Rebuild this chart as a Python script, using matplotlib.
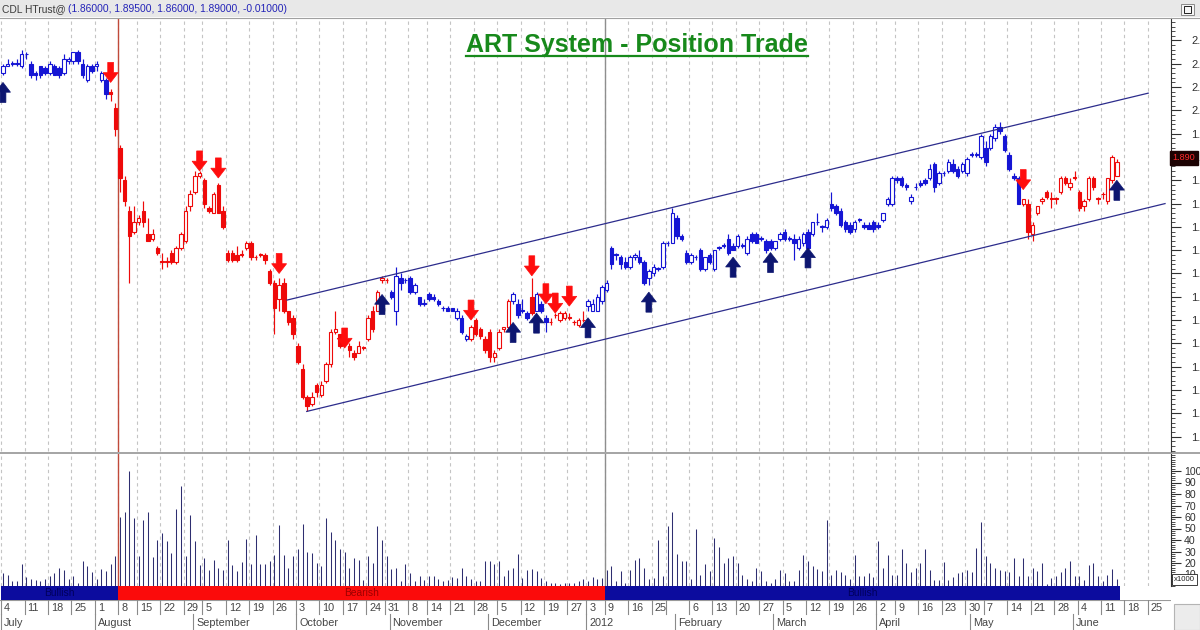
import numpy as np
import pandas as pd
import matplotlib
matplotlib.use("Agg")
import matplotlib.pyplot as plt
from matplotlib.patches import Polygon, Rectangle
from matplotlib.lines import Line2D
from matplotlib.ticker import MultipleLocator, FixedLocator, FormatStrFormatter

plt.rcParams['font.family'] = ['Liberation Sans', 'DejaVu Sans']

# ---------------- data ----------------
header_symbol = "CDL HTrust@"
header_quote = "(1.86000, 1.89500, 1.86000, 1.89000, -0.01000)"
title = "ART System - Position Trade"
first_day = "2011-07-04"
last_axis_day = "2012-06-29"
exchange_holidays = ["2011-08-09", "2011-08-30", "2011-10-26", "2011-11-07", "2011-12-26",
                     "2012-01-02", "2012-01-23", "2012-01-24", "2012-04-06", "2012-05-01"]
blank_week_labels = ["2012-01-30"]

opens = [
    2.080, 2.095, 2.100, 2.100, 2.095, 2.120, 2.100, 2.080, 2.095, 2.090,
    2.080, 2.095, 2.090, 2.080, 2.105, 2.105, 2.125, 2.100, 2.065, 2.095,
    2.095, 2.065, 2.065, 2.040, 2.005, 1.920, 1.850, 1.785, 1.740, 1.760,
    1.785, 1.735, 1.725, 1.705, 1.675, 1.675, 1.695, 1.675, 1.705, 1.720,
    1.795, 1.825, 1.860, 1.850, 1.790, 1.780, 1.840, 1.785, 1.695, 1.695,
    1.690, 1.690, 1.705, 1.715, 1.685, 1.690, 1.690, 1.655, 1.630, 1.595,
    1.630, 1.570, 1.555, 1.495, 1.445, 1.385, 1.370, 1.410, 1.390, 1.420,
    1.455, 1.525, 1.520, 1.520, 1.495, 1.480, 1.480, 1.490, 1.510, 1.570,
    1.570, 1.635, 1.635, 1.610, 1.570, 1.640, 1.635, 1.640, 1.610, 1.600,
    1.585, 1.605, 1.600, 1.590, 1.575, 1.575, 1.575, 1.555, 1.555, 1.510,
    1.510, 1.550, 1.530, 1.510, 1.525, 1.470, 1.490, 1.530, 1.535, 1.590,
    1.585, 1.570, 1.565, 1.600, 1.570, 1.585, 1.555, 1.545, 1.560, 1.550,
    1.555, 1.555, 1.545, 1.540, 1.550, 1.580, 1.570, 1.570, 1.590, 1.615,
    1.705, 1.690, 1.685, 1.675, 1.665, 1.685, 1.685, 1.675, 1.640, 1.650,
    1.660, 1.665, 1.715, 1.715, 1.770, 1.730, 1.695, 1.675, 1.685, 1.700,
    1.660, 1.690, 1.660, 1.705, 1.710, 1.725, 1.710, 1.710, 1.710, 1.695,
    1.735, 1.735, 1.725, 1.720, 1.720, 1.705, 1.725, 1.740, 1.725, 1.725,
    1.705, 1.715, 1.740, 1.735, 1.760, 1.750, 1.750, 1.800, 1.795, 1.785,
    1.760, 1.755, 1.745, 1.765, 1.755, 1.755, 1.760, 1.755, 1.765, 1.800,
    1.800, 1.855, 1.855, 1.840, 1.805, 1.835, 1.845, 1.850, 1.855, 1.885,
    1.845, 1.865, 1.870, 1.885, 1.875, 1.870, 1.865, 1.905, 1.905, 1.900,
    1.920, 1.920, 1.940, 1.965, 1.945, 1.905, 1.860, 1.855, 1.800, 1.800,
    1.735, 1.780, 1.805, 1.825, 1.810, 1.810, 1.825, 1.855, 1.835, 1.855,
    1.825, 1.795, 1.810, 1.855, 1.810, 1.820, 1.805, 1.850, 1.860]

highs = [
    2.100, 2.110, 2.105, 2.110, 2.130, 2.125, 2.105, 2.085, 2.095, 2.095,
    2.105, 2.100, 2.095, 2.120, 2.115, 2.125, 2.130, 2.110, 2.100, 2.100,
    2.105, 2.085, 2.070, 2.045, 2.015, 1.925, 1.860, 1.795, 1.795, 1.775,
    1.805, 1.770, 1.745, 1.710, 1.695, 1.685, 1.700, 1.710, 1.740, 1.795,
    1.830, 1.870, 1.870, 1.855, 1.795, 1.825, 1.845, 1.795, 1.700, 1.700,
    1.710, 1.700, 1.720, 1.720, 1.690, 1.695, 1.695, 1.660, 1.635, 1.640,
    1.640, 1.570, 1.560, 1.500, 1.455, 1.390, 1.395, 1.415, 1.420, 1.460,
    1.530, 1.570, 1.520, 1.520, 1.500, 1.485, 1.505, 1.495, 1.560, 1.580,
    1.615, 1.645, 1.640, 1.615, 1.665, 1.650, 1.640, 1.645, 1.630, 1.600,
    1.595, 1.610, 1.605, 1.595, 1.580, 1.580, 1.575, 1.575, 1.560, 1.520,
    1.540, 1.555, 1.535, 1.515, 1.530, 1.485, 1.530, 1.535, 1.595, 1.610,
    1.595, 1.595, 1.570, 1.640, 1.610, 1.590, 1.560, 1.555, 1.565, 1.570,
    1.570, 1.565, 1.550, 1.555, 1.570, 1.595, 1.595, 1.605, 1.625, 1.635,
    1.710, 1.695, 1.690, 1.685, 1.690, 1.695, 1.700, 1.680, 1.660, 1.670,
    1.665, 1.720, 1.720, 1.790, 1.775, 1.735, 1.700, 1.695, 1.690, 1.705,
    1.685, 1.695, 1.700, 1.710, 1.715, 1.735, 1.715, 1.735, 1.715, 1.730,
    1.740, 1.740, 1.730, 1.725, 1.725, 1.720, 1.740, 1.745, 1.730, 1.735,
    1.730, 1.740, 1.745, 1.760, 1.780, 1.755, 1.770, 1.825, 1.800, 1.790,
    1.765, 1.760, 1.765, 1.770, 1.760, 1.760, 1.765, 1.760, 1.780, 1.815,
    1.860, 1.860, 1.860, 1.845, 1.820, 1.845, 1.850, 1.855, 1.885, 1.890,
    1.870, 1.870, 1.895, 1.895, 1.880, 1.890, 1.900, 1.910, 1.910, 1.950,
    1.935, 1.950, 1.970, 1.975, 1.950, 1.910, 1.865, 1.860, 1.810, 1.810,
    1.760, 1.795, 1.815, 1.830, 1.825, 1.815, 1.860, 1.860, 1.855, 1.870,
    1.830, 1.810, 1.860, 1.860, 1.815, 1.825, 1.855, 1.905, 1.895]

lows = [
    2.075, 2.095, 2.095, 2.095, 2.090, 2.110, 2.070, 2.065, 2.070, 2.075,
    2.075, 2.075, 2.070, 2.075, 2.100, 2.100, 2.100, 2.070, 2.060, 2.080,
    2.085, 2.060, 2.025, 2.020, 1.945, 1.825, 1.795, 1.630, 1.735, 1.755,
    1.750, 1.720, 1.720, 1.690, 1.660, 1.665, 1.670, 1.670, 1.700, 1.715,
    1.785, 1.820, 1.855, 1.790, 1.780, 1.780, 1.780, 1.745, 1.675, 1.675,
    1.675, 1.685, 1.700, 1.680, 1.680, 1.685, 1.670, 1.625, 1.520, 1.570,
    1.565, 1.540, 1.510, 1.455, 1.380, 1.355, 1.365, 1.385, 1.385, 1.415,
    1.450, 1.520, 1.490, 1.495, 1.470, 1.465, 1.480, 1.485, 1.505, 1.525,
    1.570, 1.630, 1.630, 1.595, 1.540, 1.615, 1.630, 1.605, 1.605, 1.580,
    1.580, 1.590, 1.590, 1.580, 1.570, 1.570, 1.570, 1.550, 1.520, 1.505,
    1.505, 1.515, 1.510, 1.480, 1.460, 1.460, 1.485, 1.525, 1.530, 1.585,
    1.555, 1.565, 1.550, 1.560, 1.570, 1.565, 1.525, 1.540, 1.555, 1.545,
    1.550, 1.550, 1.540, 1.535, 1.545, 1.570, 1.570, 1.570, 1.585, 1.610,
    1.660, 1.680, 1.660, 1.660, 1.660, 1.680, 1.670, 1.625, 1.625, 1.645,
    1.655, 1.660, 1.710, 1.715, 1.725, 1.720, 1.670, 1.670, 1.680, 1.655,
    1.655, 1.670, 1.655, 1.700, 1.705, 1.690, 1.700, 1.705, 1.705, 1.690,
    1.715, 1.715, 1.720, 1.695, 1.700, 1.700, 1.720, 1.720, 1.720, 1.680,
    1.700, 1.710, 1.700, 1.730, 1.755, 1.740, 1.745, 1.785, 1.775, 1.750,
    1.740, 1.735, 1.740, 1.760, 1.745, 1.745, 1.740, 1.745, 1.760, 1.795,
    1.795, 1.845, 1.835, 1.830, 1.800, 1.830, 1.835, 1.840, 1.850, 1.825,
    1.840, 1.860, 1.865, 1.865, 1.855, 1.865, 1.860, 1.900, 1.900, 1.895,
    1.880, 1.915, 1.935, 1.950, 1.910, 1.870, 1.850, 1.800, 1.795, 1.725,
    1.720, 1.775, 1.800, 1.810, 1.790, 1.800, 1.820, 1.840, 1.830, 1.850,
    1.785, 1.785, 1.805, 1.830, 1.800, 1.810, 1.800, 1.845, 1.860]

closes = [
    2.095, 2.100, 2.100, 2.100, 2.120, 2.120, 2.075, 2.075, 2.075, 2.080,
    2.100, 2.075, 2.075, 2.110, 2.110, 2.125, 2.105, 2.075, 2.095, 2.085,
    2.100, 2.080, 2.035, 2.035, 1.960, 1.855, 1.805, 1.730, 1.760, 1.770,
    1.760, 1.720, 1.735, 1.695, 1.675, 1.675, 1.675, 1.705, 1.735, 1.785,
    1.820, 1.860, 1.865, 1.800, 1.785, 1.820, 1.780, 1.750, 1.680, 1.680,
    1.680, 1.690, 1.715, 1.685, 1.685, 1.690, 1.680, 1.630, 1.575, 1.625,
    1.570, 1.545, 1.520, 1.460, 1.385, 1.365, 1.385, 1.395, 1.410, 1.455,
    1.525, 1.530, 1.495, 1.500, 1.485, 1.470, 1.495, 1.490, 1.555, 1.530,
    1.610, 1.640, 1.635, 1.600, 1.645, 1.630, 1.635, 1.610, 1.625, 1.585,
    1.585, 1.595, 1.595, 1.585, 1.575, 1.570, 1.570, 1.570, 1.525, 1.515,
    1.535, 1.520, 1.515, 1.485, 1.470, 1.480, 1.525, 1.535, 1.590, 1.605,
    1.560, 1.570, 1.555, 1.565, 1.605, 1.570, 1.545, 1.545, 1.560, 1.565,
    1.565, 1.555, 1.545, 1.550, 1.550, 1.590, 1.585, 1.600, 1.620, 1.630,
    1.670, 1.690, 1.670, 1.665, 1.685, 1.690, 1.675, 1.630, 1.655, 1.665,
    1.660, 1.715, 1.715, 1.780, 1.730, 1.725, 1.675, 1.690, 1.685, 1.660,
    1.685, 1.675, 1.700, 1.705, 1.710, 1.695, 1.700, 1.730, 1.710, 1.725,
    1.720, 1.715, 1.725, 1.700, 1.705, 1.720, 1.735, 1.725, 1.725, 1.715,
    1.725, 1.735, 1.705, 1.760, 1.760, 1.750, 1.765, 1.790, 1.780, 1.755,
    1.745, 1.740, 1.760, 1.765, 1.750, 1.745, 1.745, 1.750, 1.780, 1.810,
    1.855, 1.850, 1.840, 1.835, 1.815, 1.835, 1.840, 1.845, 1.875, 1.835,
    1.865, 1.865, 1.890, 1.870, 1.860, 1.885, 1.895, 1.905, 1.905, 1.945,
    1.890, 1.945, 1.965, 1.955, 1.915, 1.875, 1.855, 1.800, 1.810, 1.740,
    1.755, 1.795, 1.810, 1.815, 1.810, 1.810, 1.855, 1.845, 1.845, 1.855,
    1.790, 1.805, 1.855, 1.835, 1.810, 1.820, 1.855, 1.900, 1.890]

# candle colour runs (B = blue, R = red), in order
candle_color_runs = [("B", 23), ("R", 60), ("B", 17), ("R", 9), ("B", 4), ("R", 1),
                     ("B", 3), ("R", 8), ("B", 93), ("R", 21)]

volume = [
    11, 10, 4, 4, 19, 8, 6, 5, 4, 6,
    9, 11, 16, 14, 6, 9, 3, 22, 17, 12,
    6, 15, 13, 19, 26, 60, 64, 100, 59, 26,
    57, 64, 25, 40, 46, 39, 29, 67, 87, 26,
    62, 39, 18, 24, 14, 23, 16, 14, 40, 18,
    13, 21, 41, 19, 44, 19, 19, 22, 27, 53,
    27, 16, 26, 32, 54, 30, 29, 20, 17, 59,
    47, 40, 32, 30, 16, 24, 23, 5, 26, 20,
    52, 40, 26, 15, 16, 4, 19, 11, 4, 9,
    5, 9, 9, 6, 4, 5, 8, 7, 16, 9,
    6, 4, 4, 22, 22, 19, 22, 9, 14, 16,
    28, 7, 14, 15, 13, 7, 4, 3, 3, 2,
    3, 3, 3, 4, 6, 4, 8, 6,
    7, 14, 17, 4, 13, 3, 14, 23, 24, 16,
    6, 7, 40, 9, 52, 64, 28, 22, 22, 6,
    50, 10, 19, 13, 42, 34, 20, 24, 26, 20,
    10, 6, 4, 16, 13, 4, 3, 6, 14, 11,
    4, 4, 14, 27, 22, 17, 15, 13, 57, 10,
    14, 12, 10, 6, 27, 9, 9, 11, 8, 39,
    16, 27, 10, 10, 32, 20, 12, 16, 20, 32,
    14, 5, 5, 21, 5, 8, 11, 12, 14, 12,
    33, 56, 26, 20, 16, 14, 13, 12, 24, 9,
    24, 9, 16, 13, 20, 2, 7, 9, 12, 16,
    22, 9, 9, 5, 18, 20, 9, 4, 10, 15, 6]

sell_idx = [23, 42, 46, 59, 73, 100, 113, 116, 118, 121, 218]
sell_tip = [2.06, 1.87, 1.855, 1.65, 1.49, 1.55, 1.645, 1.585, 1.565, 1.58, 1.83]
buy_idx = [0, 81, 109, 114, 125, 138, 156, 164, 172, 238]
buy_tip = [2.06, 1.605, 1.545, 1.565, 1.555, 1.61, 1.685, 1.695, 1.705, 1.85]

regime_labels = ["Bullish", "Bearish", "Bullish"]
regime_start = [0, 25, 129]
regime_end = [25, 129, 239]

channel_upper_x = [60.7, 244.7]
channel_upper_y = [1.593, 2.037]
channel_lower_x = [64.9, 248.3]
channel_lower_y = [1.354, 1.800]

price_ticks = [1.30, 1.35, 1.40, 1.45, 1.50, 1.55, 1.60, 1.65, 1.70, 1.75,
               1.80, 1.85, 1.90, 1.95, 2.00, 2.05, 2.10, 2.15]
volume_ticks = [10, 20, 30, 40, 50, 60, 70, 80, 90, 100]

# ---------------- styles ----------------
BLUE = "#1515d4"
RED = "#ee0a0a"
NAVY = "#0d1670"
GRID = "#c4c4c4"

W, H = 1200, 630
fig = plt.figure(figsize=(W / 100, H / 100), dpi=100)
fig.patch.set_facecolor("white")


def frect(x0, y0, x1, y1):
    return [x0 / W, 1 - y1 / H, (x1 - x0) / W, (y1 - y0) / H]


def fx(px):
    return px / W


def fy(py):
    return 1 - py / H


# trading calendar
days = pd.bdate_range(first_day, last_axis_day)
days = days[~days.isin(pd.to_datetime(exchange_holidays))]
wk = days.to_period("W-SUN")
week_start = [0] + [k for k in range(1, len(days)) if wk[k] != wk[k - 1]]
month_start = [0] + [k for k in range(1, len(days)) if days[k].month != days[k - 1].month]

XL = (-3 / 4.68, (1171 - 3) / 4.68)
OFF = 0.4  # gridline offset before bar

n = len(closes)
x = np.arange(n)
o = np.array(opens); h = np.array(highs); l = np.array(lows); c = np.array(closes)
cstr = "".join(k * m for k, m in candle_color_runs)
col = [BLUE if ch == "B" else RED for ch in cstr]

# ---------------- header ----------------
fig.add_artist(Rectangle((0, fy(17)), 1, 17 / H, transform=fig.transFigure,
                         facecolor="#e8e8e8", edgecolor="none", zorder=0))
fig.add_artist(Line2D([0, 1], [fy(17.5), fy(17.5)], transform=fig.transFigure,
                      color="#a0a0a0", lw=0.8))
fig.text(fx(2), fy(9), header_symbol, color="#3c3c3c", fontsize=7.4, va="center", ha="left")
fig.text(fx(68), fy(9), header_quote, color="#2424b8", fontsize=7.4, va="center", ha="left")
fig.add_artist(Rectangle((fx(1181), fy(15)), 13 / W, 11 / H, transform=fig.transFigure,
                         facecolor="#f6f6f6", edgecolor="#8a8a8a", lw=0.7))
fig.add_artist(Rectangle((fx(1184), fy(13)), 7 / W, 7 / H, transform=fig.transFigure,
                         facecolor="none", edgecolor="#202020", lw=0.7))

# ---------------- price panel ----------------
ax = fig.add_axes(frect(0, 18, 1171, 452))
ax.set_xlim(XL)
ax.set_ylim(2.2369 - 452 / 466, 2.2369 - 18 / 466)
grid_x = [k - OFF for k in week_start]
ax.vlines(grid_x, 0, 3, colors=GRID, linestyles=(0, (3, 3)), lw=0.8, zorder=1)
ax.axvline(regime_start[1] - OFF, color="#c04a3a", lw=1.0, zorder=2)
ax.axvline(regime_start[2] - OFF, color="#8e8e8e", lw=1.0, zorder=2)

ax.plot(channel_upper_x, channel_upper_y, color="#2c2c8c", lw=0.9, zorder=5)
ax.plot(channel_lower_x, channel_lower_y, color="#2c2c8c", lw=0.9, zorder=5)

ax.vlines(x, l, h, colors=col, lw=0.85, zorder=3)
face = ["white" if c[i] > o[i] else col[i] for i in range(n)]
body_bottom = np.minimum(o, c)
body_h = np.maximum(np.abs(c - o), 0.0012)
ax.bar(x, body_h, bottom=body_bottom, width=0.74, color=face, edgecolor=col,
       linewidth=0.8, zorder=4)


def arrow(xc, tip, direction, color):
    hw, sw, L, hl = 1.6, 0.62, 0.043, 0.021
    s = direction
    pts = [(xc, tip), (xc - hw, tip + s * hl), (xc - sw, tip + s * hl), (xc - sw, tip + s * L),
           (xc + sw, tip + s * L), (xc + sw, tip + s * hl), (xc + hw, tip + s * hl)]
    ax.add_patch(Polygon(pts, closed=True, facecolor=color, edgecolor=color, lw=0.5, zorder=6))


for i, t in zip(sell_idx, sell_tip):
    arrow(i, t, +1, "#ff0d0d")
for i, t in zip(buy_idx, buy_tip):
    arrow(i, t, -1, NAVY)

ax.yaxis.tick_right()
ax.yaxis.set_major_locator(FixedLocator(price_ticks))
ax.yaxis.set_major_formatter(FormatStrFormatter("%.2f"))
ax.yaxis.set_minor_locator(MultipleLocator(0.01))
ax.tick_params(axis="y", which="major", direction="out", length=7, width=0.8,
               pad=7.5, labelsize=8, colors="#303030")
ax.tick_params(axis="y", which="minor", direction="out", length=3, width=0.6, colors="#303030")
ax.set_xticks([])
for s in ("left", "top"):
    ax.spines[s].set_visible(False)
ax.spines["bottom"].set_visible(False)
ax.spines["right"].set_color("#303030")
ax.spines["right"].set_linewidth(0.8)

# last price box
ax.text(1.0015, c[-1] + 0.008, "%.3f" % c[-1], transform=ax.get_yaxis_transform(),
        ha="left", va="center", fontsize=6.6, color="#ff2a2a", zorder=10, clip_on=False,
        bbox=dict(boxstyle="square,pad=0.25", facecolor="#1c0202", edgecolor="#1c0202"))

# separator line between panels
fig.add_artist(Line2D([0, 1], [fy(452.5), fy(452.5)], transform=fig.transFigure,
                      color="#8c8c8c", lw=1.1))

# ---------------- volume panel ----------------
av = fig.add_axes(frect(0, 454, 1171, 586))
av.set_xlim(XL)
av.set_ylim(0, (586 - 454) / 1.15)
av.vlines(grid_x, 0, 200, colors=GRID, linestyles=(0, (3, 3)), lw=0.8, zorder=1)
av.axvline(regime_start[1] - OFF, color="#c04a3a", lw=1.0, zorder=2)
av.axvline(regime_start[2] - OFF, color="#8e8e8e", lw=1.0, zorder=2)
av.vlines(x, 0, np.array(volume), colors="#2e2e70", lw=0.75, zorder=3)
av.yaxis.tick_right()
av.yaxis.set_major_locator(FixedLocator(volume_ticks))
av.yaxis.set_minor_locator(MultipleLocator(2))
av.tick_params(axis="y", which="major", direction="out", length=7, width=0.8,
               pad=2.5, labelsize=7.6, colors="#303030")
av.tick_params(axis="y", which="minor", direction="out", length=3, width=0.6, colors="#303030")
av.set_xticks([])
for s in ("left", "top", "bottom"):
    av.spines[s].set_visible(False)
av.spines["right"].set_color("#303030")
av.spines["right"].set_linewidth(0.8)
fig.text(fx(1184.5), fy(579.5), "x1000", fontsize=5.6, color="#202020", ha="center", va="center",
         zorder=10, bbox=dict(boxstyle="square,pad=0.2", facecolor="white", edgecolor="#202020", lw=0.6))

# ---------------- regime bar ----------------
ar = fig.add_axes(frect(0, 586, 1171, 600))
ar.set_xlim(XL)
ar.set_ylim(0, 1)
ar.axis("off")
for lab, s0, s1 in zip(regime_labels, regime_start, regime_end):
    left = max(s0 - OFF, XL[0])
    right = s1 - OFF
    bull = lab == "Bullish"
    ar.add_patch(Rectangle((left, 0), right - left, 1, facecolor="#0c0c9e" if bull else "#fb0b0b",
                           edgecolor="none"))
    ar.text((s0 - OFF + right) / 2, 0.5, lab, ha="center", va="center", fontsize=7.4,
            color="#00005c" if bull else "#9c0000")

# ---------------- date rows ----------------
ad = fig.add_axes(frect(0, 600, 1171, 630))
ad.set_xlim(XL)
ad.set_ylim(30, 0)
ad.axis("off")
ad.plot(XL, [0.4, 0.4], color="#9a9a9a", lw=0.8)
for k in week_start:
    gx = k - OFF
    ad.plot([gx, gx], [0, 14], color="#8a8a8a", lw=0.8)
    lbl = "" if days[k].strftime("%Y-%m-%d") in blank_week_labels else str(days[k].day)
    ad.text(k + 0.25, 7.6, lbl, ha="left", va="center", fontsize=7.8, color="#444444")
for k in month_start:
    gx = k - OFF
    ad.plot([gx, gx], [14, 30], color="#8a8a8a", lw=0.8)
    mlbl = str(days[k].year) if days[k].month == 1 else days[k].strftime("%B")
    ad.text(k + 0.25, 22.5, mlbl, ha="left", va="center", fontsize=7.8, color="#444444")

fig.add_artist(Rectangle((fx(1174), 0), 26 / W, 26 / H, transform=fig.transFigure,
                         facecolor="#ececec", edgecolor="#b4b4b4", lw=0.8))

# ---------------- title ----------------
tt = fig.text(fx(637), fy(52), title, ha="center", va="baseline", fontsize=18,
              fontweight="bold", color="#17891b", zorder=10)
fig.canvas.draw()
bb = tt.get_window_extent()
fig.add_artist(Line2D([bb.x0 / W, bb.x1 / W], [fy(55.5), fy(55.5)], transform=fig.transFigure,
                      color="#17891b", lw=1.6))

fig.savefig("out.png", dpi=100, facecolor="white")
